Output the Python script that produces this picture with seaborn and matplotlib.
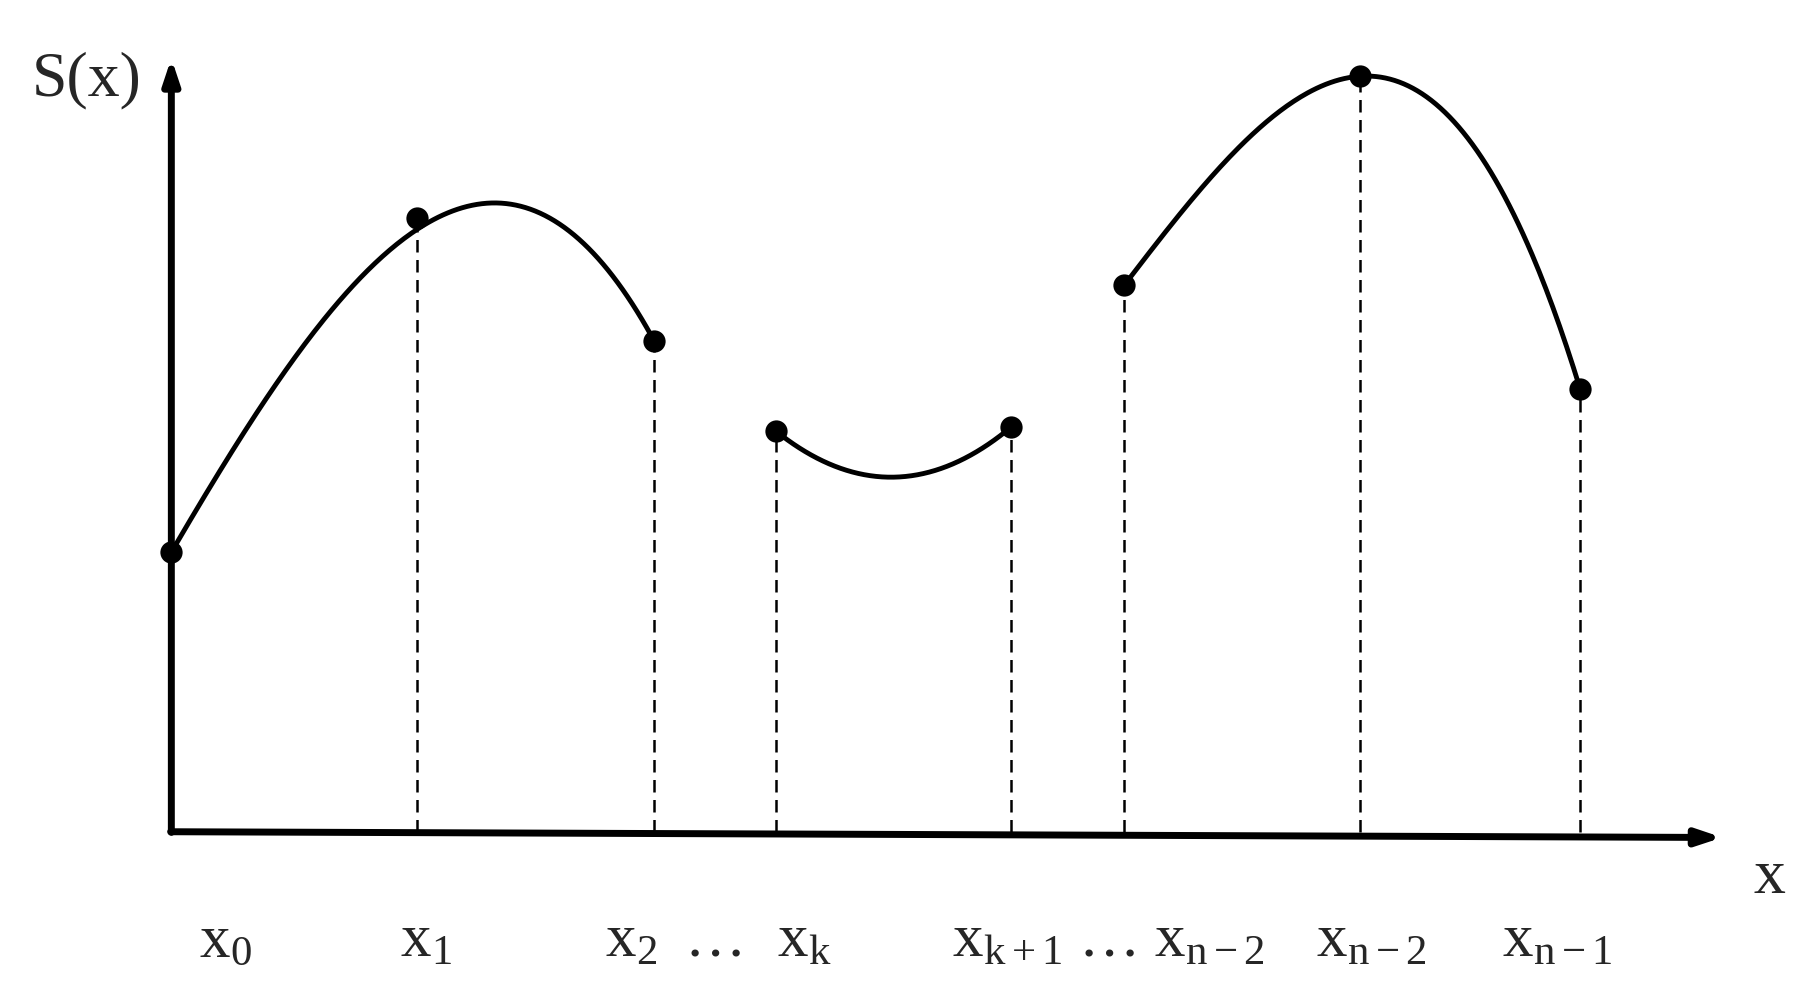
import numpy as np
import pandas as pd
import matplotlib
matplotlib.use("Agg")
import matplotlib.pyplot as plt
import seaborn as sns

sns.set_theme(style="white")
plt.rcParams['font.family'] = ['Liberation Serif', 'DejaVu Serif']
plt.rcParams['mathtext.fontset'] = 'custom'
plt.rcParams['mathtext.rm'] = 'Liberation Serif'
plt.rcParams['mathtext.it'] = 'Liberation Serif'

# node positions (schematic units; origin at axis corner)
node_x = [148, 360, 565, 670, 873, 971, 1175, 1365]
node_y = [242, 531, 425, 347, 350, 473, 654, 383]
# curve segments defined by nodes plus shape points
seg1_x = [148, 250, 390, 565]; seg1_y = [242, 404, 537, 425]
seg2_x = [670, 765, 873];      seg2_y = [347, 307, 350]
seg3_x = [971, 1080, 1175, 1365]; seg3_y = [473, 602, 654, 383]
tick_x = [195, 368, 545, 618, 695, 870, 958, 1045, 1185, 1345]
tick_labels = [r'x$_0$', r'x$_1$', r'x$_2$', '…', r'x$_\mathrm{k}$', r'x$_\mathrm{k+1}$',
               '…', r'x$_\mathrm{n\text{-}2}$', r'x$_\mathrm{n\text{-}2}$', r'x$_\mathrm{n\text{-}1}$']
tick_labels[7] = r'x$_\mathrm{n-2}$'; tick_labels[8] = r'x$_\mathrm{n-2}$'; tick_labels[9] = r'x$_\mathrm{n-1}$'

fig = plt.figure(figsize=(18.06, 10.05), dpi=100)
ax = fig.add_axes([0, 0, 1, 1])
ax.set_xlim(0, 1560)
ax.set_ylim(-150, 870 - 150)
ax.axis('off')

def smooth(xs, ys):
    c = np.polyfit(xs, ys, len(xs) - 1)
    xx = np.linspace(xs[0], xs[-1], 200)
    return pd.DataFrame({'x': xx, 'y': np.polyval(c, xx)})

for sx, sy in [(seg1_x, seg1_y), (seg2_x, seg2_y), (seg3_x, seg3_y)]:
    d = smooth(sx, sy)
    sns.lineplot(data=d, x='x', y='y', ax=ax, color='black', lw=3.5, sort=False)

for x, y in zip(node_x[1:], node_y[1:]):
    ax.plot([x, x], [0, y], color='black', ls=(0, (5, 3)), lw=1.8)

sns.scatterplot(x=node_x, y=node_y, ax=ax, color='black', s=220, zorder=5, edgecolor='black')

# axes with arrows
ax.annotate('', xy=(1490, -5), xytext=(145, 0),
            arrowprops=dict(arrowstyle='-|>,head_length=1.2,head_width=0.4', color='black', lw=5))
ax.annotate('', xy=(148, 672), xytext=(148, -3),
            arrowprops=dict(arrowstyle='-|>,head_length=1.2,head_width=0.4', color='black', lw=5))
ax.text(75, 650, 'S(x)', fontsize=46, ha='center', va='center')
ax.text(1528, -40, 'x', fontsize=46, ha='center', va='center')
for tx, tl in zip(tick_x, tick_labels):
    ax.text(tx, -95, tl, fontsize=44, ha='center', va='center')

fig.savefig('out.png', dpi=100, facecolor='white')
